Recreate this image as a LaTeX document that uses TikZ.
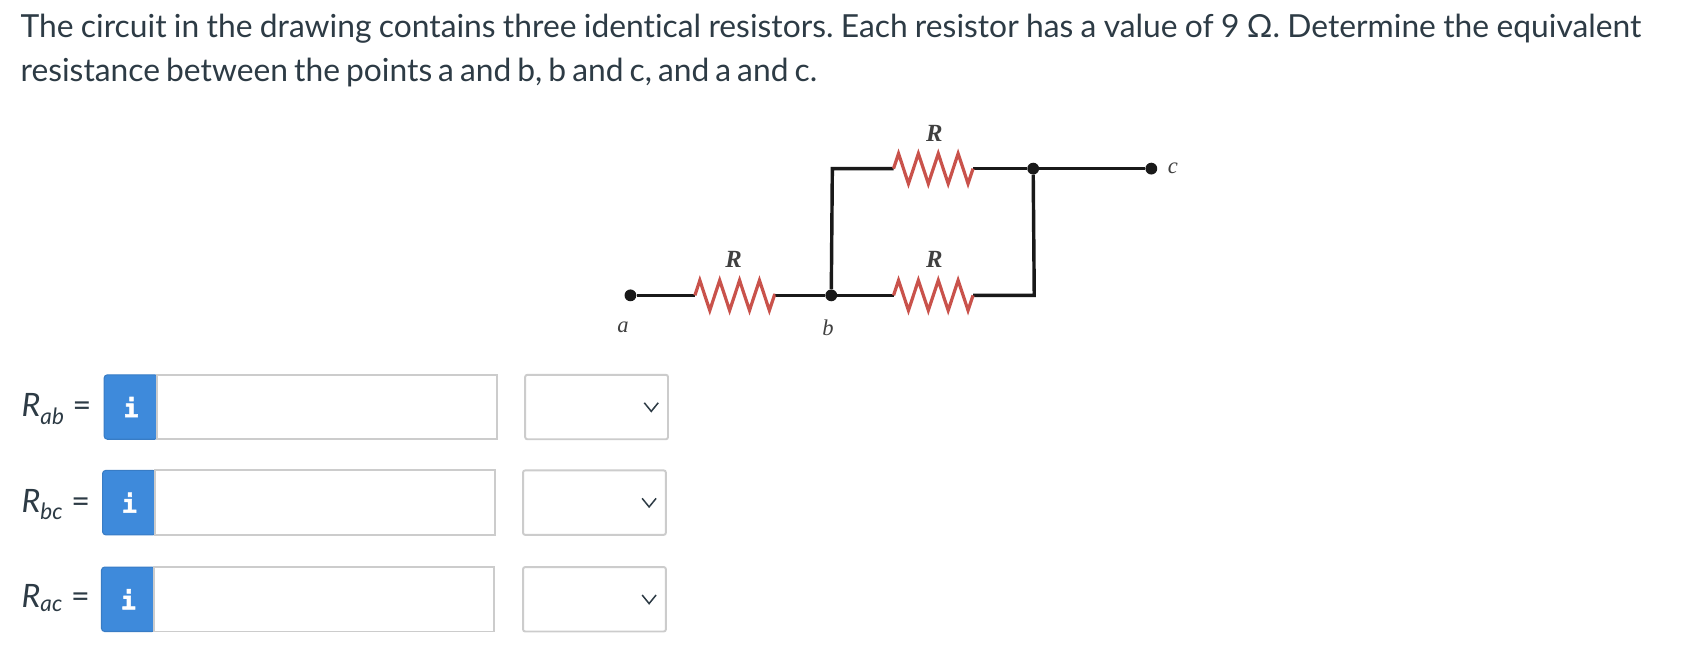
\documentclass[tikz,border=0pt]{standalone}
\usepackage{amsmath,amssymb}
\usepackage{xcolor}
\usepackage{fontspec}
\usepackage{tikz}
\usetikzlibrary{decorations.pathmorphing}
\setmainfont[Ligatures=NoCommon]{Lato}
\newfontfamily\circuitfont{Liberation Serif}
\newfontfamily\iconfont[BoldFeatures={FakeBold=2.5}]{DejaVu Sans Mono}
\definecolor{inktext}{HTML}{2D3B45}
\definecolor{infoblue}{HTML}{3E8ADB}
\definecolor{boxgrey}{HTML}{CCCCCC}
\definecolor{resred}{HTML}{C9524B}
\frenchspacing
\tikzset{
  wire/.style={line width=3.2pt, black!90},
  res/.style={line width=3pt, resred, decorate,
    decoration={zigzag, segment length=18.5pt, amplitude=14pt}},
  joint/.style={circle, fill=black!90, inner sep=0pt, minimum size=11pt},
  rlabel/.style={font=\circuitfont\itshape\bfseries\fontsize{23}{23}\selectfont, text=black!75, inner sep=0pt},
  ptlabel/.style={font=\circuitfont\itshape\fontsize{21}{21}\selectfont, text=black!75, inner sep=0pt},
  line/.style={anchor=base west, inner sep=0pt, text=inktext, font=\fontsize{29.6}{29.6}\selectfont},
  rowlabel/.style={anchor=base west, inner sep=0pt, text=inktext, font=\fontsize{30}{30}\selectfont},
  infobox/.style={draw=infoblue!90!black, fill=infoblue, line width=1pt, rounded corners=3pt, minimum height=60pt, minimum width=50pt,
    inner sep=0pt, text=white, font=\iconfont\bfseries\fontsize{23}{23}\selectfont},
  inbox/.style={draw=boxgrey, fill=white, line width=1.8pt, minimum height=60pt, inner sep=0pt},
  selbox/.style={draw=boxgrey, fill=white, line width=1.8pt, rounded corners=2pt, minimum height=60pt, minimum width=133pt, inner sep=0pt},
  chev/.style={line width=1.4pt, inktext}
}
\begin{document}
\begin{tikzpicture}[x=1pt, y=-1pt]
  \useasboundingbox[fill=white] (0,0) rectangle (1568,611);

  \node[line] (line1) at (19,35) {\spaceskip=6.8pt The circuit in the drawing contains three identical resistors. Each resistor has a value of 9 Ω. Determine the equivalent};
  \node[line] (line2) at (19,76) {\spaceskip=5.6pt resistance between the points a and b, b and c, and a and c.};

  % circuit
  \node[joint] (a) at (587,275) {};
  \node[joint] (b) at (774,275) {};
  \node[joint] (d) at (962,157) {};
  \node[joint] (c) at (1072,157) {};
  \coordinate (tl) at (775,157);
  \coordinate (br) at (963,275);
  \coordinate (r1a) at (647,275);
  \coordinate (r1b) at (722,275);
  \coordinate (r2a) at (832,157);
  \coordinate (r2b) at (906,157);
  \coordinate (r3a) at (832,275);
  \coordinate (r3b) at (906,275);

  \draw[wire] (a) -- (r1a);
  \draw[wire] (r1b) -- (b);
  \draw[wire] (b) -- (r3a);
  \draw[wire] (r3b) -- (br) -- (d);
  \draw[wire] (b) -- (tl) -- (r2a);
  \draw[wire] (r2b) -- (d) -- (c);
  \draw[res] (r1a) -- (r1b);
  \draw[res] (r2a) -- (r2b);
  \draw[res] (r3a) -- (r3b);

  \node[rlabel] (lr1) at (683,242) {R};
  \node[rlabel] (lr2) at (870,124) {R};
  \node[rlabel] (lr3) at (870,242) {R};
  \node[ptlabel] (la) at (580,305) {a};
  \node[ptlabel] (lb) at (771,305) {b};
  \node[ptlabel] (lc) at (1092,157) {c};

  % answer rows
  \node[rowlabel] (rab) at (20,388) {\textit{R\textsubscript{ab}} =};
  \node[infobox] (inf1) at (122,379) {i};
  \node[inbox, minimum width=317pt] (in1) at (304.5,379) {};
  \node[selbox] (sel1) at (555.5,379) {};
  \draw[chev] ([shift={(-23,-4)}]sel1.east) -- ++(6.5,8) -- ++(6.5,-8);

  \node[rowlabel] (rbc) at (20,477) {\textit{R\textsubscript{bc}} =};
  \node[infobox] (inf2) at (120.5,468) {i};
  \node[inbox, minimum width=317pt] (in2) at (302.5,468) {};
  \node[selbox] (sel2) at (553.5,468) {};
  \draw[chev] ([shift={(-23,-4)}]sel2.east) -- ++(6.5,8) -- ++(6.5,-8);

  \node[rowlabel] (rac) at (20,566) {\textit{R\textsubscript{ac}} =};
  \node[infobox] (inf3) at (119.5,558) {i};
  \node[inbox, minimum width=317pt] (in3) at (301.5,558) {};
  \node[selbox] (sel3) at (553.5,558) {};
  \draw[chev] ([shift={(-23,-4)}]sel3.east) -- ++(6.5,8) -- ++(6.5,-8);
\end{tikzpicture}
\end{document}
